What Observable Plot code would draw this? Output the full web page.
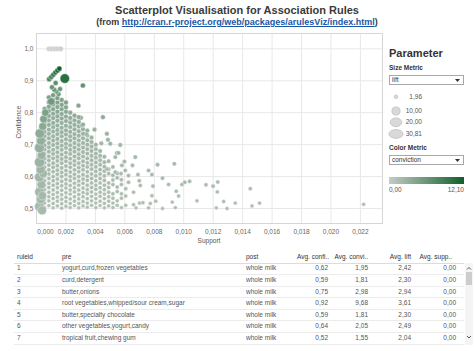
<!DOCTYPE html>
<html><head><meta charset="utf-8">
<script src="https://cdn.jsdelivr.net/npm/d3@7"></script>
<script src="https://cdn.jsdelivr.net/npm/@observablehq/plot@0.6"></script>
<style>
body{margin:0;background:#fff;font-family:Arial,"Liberation Sans",sans-serif;}
#root{position:relative;width:474px;height:351px;overflow:hidden;background:#fff;}
.a{position:absolute;white-space:nowrap;}
.title{left:0;width:474px;text-align:center;font-weight:bold;color:#3a3a3a;}
.lbl{font-size:6.5px;line-height:8px;color:#555;}
.bold{font-weight:bold;color:#333;}
.dd{border:1px solid #a8a8a8;background:#fff;box-sizing:border-box;font-size:6.5px;line-height:8px;color:#333;padding-left:2px;}
.cell{font-size:6.5px;line-height:8px;color:#555;}
.hdr{color:#333;}
</style></head>
<body><div id="root"></div>
<script>
// ---------- data ----------
const wholeMilkSupport = 0.2555; // support of the rule consequent "whole milk"

// dense cloud of whole-milk rules, one support value per column
const cloudSupport = [0.00055,0.00084,0.00113,0.00142,0.00171,0.00200,0.00229,0.00258,0.00287,0.00316,0.00345,0.00374,0.00403,0.00432,0.00461,0.00490,0.00519,0.00548,0.00577,0.00606];
const cloudConfidence = [
 [0.503,0.517,0.530,0.545,0.559,0.572,0.587,0.601,0.614,0.629,0.643,0.656,0.671,0.685,0.698,0.713,0.727,0.740,0.755,0.769,0.783,0.797,0.812],
 [0.509,0.524,0.537,0.551,0.566,0.579,0.594,0.608,0.621,0.636,0.650,0.663,0.678,0.692,0.705,0.720,0.734,0.747,0.762,0.776,0.790,0.805,0.819,0.833,0.848],
 [0.502,0.516,0.531,0.544,0.558,0.573,0.587,0.600,0.615,0.629,0.642,0.657,0.671,0.684,0.699,0.713,0.726,0.741,0.755,0.768,0.783,0.797,0.811,0.826,0.840,0.855],
 [0.508,0.523,0.536,0.550,0.565,0.578,0.592,0.607,0.620,0.634,0.649,0.662,0.676,0.691,0.704,0.718,0.733,0.746,0.760,0.775,0.789,0.803,0.818,0.832,0.846],
 [0.501,0.515,0.529,0.543,0.557,0.571,0.585,0.600,0.613,0.627,0.642,0.655,0.669,0.684,0.697,0.711,0.726,0.739,0.753,0.768,0.782,0.796,0.811,0.825,0.840],
 [0.507,0.522,0.535,0.549,0.564,0.577,0.591,0.606,0.619,0.633,0.648,0.661,0.675,0.690,0.703,0.717,0.732,0.745,0.759,0.774,0.788,0.803,0.817,0.832],
 [0.503,0.516,0.530,0.545,0.558,0.572,0.587,0.600,0.614,0.629,0.642,0.656,0.671,0.684,0.698,0.713,0.726,0.740,0.755,0.769,0.784,0.800],
 [0.509,0.523,0.537,0.552,0.565,0.579,0.594,0.607,0.621,0.636,0.649,0.663,0.678,0.691,0.705,0.720,0.733,0.748,0.762,0.776,0.791],
 [0.502,0.516,0.530,0.544,0.558,0.573,0.586,0.600,0.615,0.628,0.642,0.657,0.670,0.685,0.699,0.713,0.728,0.742,0.757,0.771,0.786],
 [0.508,0.522,0.537,0.550,0.564,0.579,0.592,0.606,0.621,0.634,0.648,0.663,0.677,0.691,0.705,0.720,0.734,0.748,0.763],
 [0.504,0.517,0.531,0.546,0.559,0.573,0.588,0.601,0.615,0.630,0.643,0.657,0.672,0.686,0.700,0.714,0.729,0.744],
 [0.510,0.524,0.538,0.552,0.566,0.580,0.594,0.608,0.623,0.637,0.651,0.665,0.680,0.694,0.708,0.722],
 [0.503,0.517,0.531,0.545,0.560,0.573,0.587,0.602,0.616,0.630,0.644,0.659,0.672,0.686,0.700],
 [0.509,0.523,0.538,0.551,0.565,0.580,0.594,0.608,0.622,0.637,0.651,0.665,0.680],
 [0.502,0.516,0.531,0.545,0.559,0.573,0.588,0.602,0.617,0.631,0.645,0.662],
 [0.508,0.523,0.537,0.551,0.566,0.580,0.609,0.623,0.648],
 [0.503,0.517,0.532,0.546,0.575,0.589,0.604,0.630],
 [0.510,0.524,0.553,0.567,0.596,0.610],
 [0.503,0.532,0.546,0.575,0.590],
 [0.510,0.539,0.562]
];

// scattered whole-milk rules with larger support
const sparseSupport = [0.00451,0.00394,0.00478,0.00485,0.00440,0.00569,0.00546,0.00671,0.00597,0.00652,
 0.00822,0.00936,0.00761,0.00784,0.00689,0.00856,0.00698,0.00897,0.01040,0.01007,
 0.00988,0.00705,0.00791,0.00625,0.00659,0.00949,0.00784,0.00965,0.01090,0.00922,
 0.00723,0.00700,0.00810,0.00943,0.00856,0.00761,0.00676,0.00659,0.01151,0.01199,
 0.01231,0.01228,0.01452,0.01271,0.01350,0.01515,0.01464,0.01221,0.01294,0.02222,
 0.00773,0.00285,0.00229,0.00302,0.00309,0.00338,0.00501,0.00557,0.00535,0.00478,
 0.00580,0.00603,0.00625,0.00574,0.00535,0.00315];
const sparseConfidence = [0.786,0.747,0.734,0.715,0.704,0.699,0.674,0.661,0.647,0.635,
 0.637,0.640,0.619,0.606,0.606,0.595,0.587,0.575,0.585,0.582,
 0.575,0.572,0.570,0.582,0.551,0.554,0.540,0.539,0.524,0.520,
 0.518,0.517,0.523,0.503,0.500,0.502,0.502,0.512,0.574,0.570,
 0.583,0.552,0.562,0.522,0.517,0.517,0.508,0.502,0.500,0.513,
 0.516,0.822,0.781,0.784,0.760,0.733,0.703,0.674,0.661,0.624,
 0.635,0.619,0.603,0.609,0.614,0.885];

// high-confidence whole-milk rules at the top of the cloud
const topSupport = [0.00086,0.00100,0.00114,0.00128,0.00142,0.00155,0.00105,0.00120,0.00135,0.00150,0.00130,0.00160];
const topConfidence = [0.905,0.912,0.919,0.926,0.932,0.938,0.880,0.872,0.866,0.858,0.893,0.874];

// rules with other consequents (high lift)
const highLiftSupport = [0.00022,0.00030,0.00020,0.00034,0.00021,0.00028,0.00019,0.00033,0.00022,0.00030,0.00020,0.00038,0.00042,0.00048,0.00060,0.00100,0.00192,0.00040,0.00045];
const highLiftConfidence = [0.735,0.712,0.690,0.667,0.645,0.622,0.598,0.575,0.552,0.529,0.506,0.494,0.757,0.780,0.800,0.835,0.907,0.540,0.610];
const highLiftLift = [11.8,10.5,13.2,9.8,14.1,11.0,12.6,10.2,13.5,11.4,12.9,10.8,8.6,8.1,7.2,7.6,12.3,9.5,9.1];
const highLiftConviction = [3.6,3.3,3.0,2.8,2.7,2.5,2.3,2.2,2.1,2.0,1.9,1.9,3.9,4.3,4.7,5.6,10.3,2.1,2.4];

// rules with confidence 1 (conviction undefined)
const sureSupport = [0.00085,0.00104,0.00124,0.00144,0.00164];
const sureConfidence = [1,1,1,1,1];

// axis ticks
const xTicks = [0,0.002,0.004,0.006,0.008,0.010,0.012,0.014,0.016,0.018,0.020,0.022];
const yTicks = [0.5,0.6,0.7,0.8,0.9,1.0];

// legends
const sizeLegend = [1.96,10.00,20.00,30.81];
const colorLegend = [0.00,12.10];

// table
const tableHeaders = ["ruleid","pre","post","Avg. confi..","Avg. convi..","Avg. lift","Avg. supp.."];
const ruleIds = [1,2,3,4,5,6,7];
const preItems = ["yogurt,curd,frozen vegetables","curd,detergent","butter,onions","root vegetables,whipped/sour cream,sugar","butter,specialty chocolate","other vegetables,yogurt,candy","tropical fruit,chewing gum"];
const postItems = ["whole milk","whole milk","whole milk","whole milk","whole milk","whole milk","whole milk"];
const avgConfidence = [0.62,0.59,0.75,0.92,0.59,0.64,0.52];
const avgConviction = [1.95,1.81,2.98,9.68,1.81,2.05,1.55];
const avgLift = [2.42,2.30,2.94,3.61,2.30,2.49,2.04];
const avgSupport = [0.00,0.00,0.00,0.00,0.00,0.00,0.00];

// ---------- build ----------
const loc = d3.formatLocale({decimal: ",", thousands: ".", grouping: [3], currency: ["", ""]});
const f3 = loc.format(".3f"), f1 = loc.format(".1f"), f2 = loc.format(".2f");
const colorRange = ["#c4cbc6", "#10602b"];
const rMax = 7.5;

const wm = (s, c) => ({support: s, confidence: c, lift: c / wholeMilkSupport, conviction: (1 - wholeMilkSupport) / (1 - c)});
const rules = [];
cloudSupport.forEach((s, i) => cloudConfidence[i].forEach(c => rules.push(wm(s, c))));
sparseSupport.forEach((s, i) => rules.push(wm(s, sparseConfidence[i])));
topSupport.forEach((s, i) => rules.push(wm(s, topConfidence[i])));
highLiftSupport.forEach((s, i) => rules.push({support: s, confidence: highLiftConfidence[i], lift: highLiftLift[i], conviction: highLiftConviction[i]}));
rules.sort((a, b) => a.conviction - b.conviction);
const sure = sureSupport.map((s, i) => ({support: s, confidence: sureConfidence[i], lift: sureConfidence[i] / wholeMilkSupport}));

const root = document.getElementById("root");
function add(html, cls, style) {
  const d = document.createElement("div");
  d.className = "a " + (cls || "");
  d.setAttribute("style", style);
  d.innerHTML = html;
  root.appendChild(d);
  return d;
}

add("Scatterplot Visualisation for Association Rules", "title", "top:4px;font-size:11px;line-height:13px;");
add('(from <span style="color:#1b56a5;text-decoration:underline;">http://cran.r-project.org/web/packages/arulesViz/index.html</span>)', "title", "top:17px;font-size:9px;line-height:11px;");

const chart = Plot.plot({
  width: 384, height: 220,
  marginLeft: 36, marginRight: 2, marginTop: 5, marginBottom: 25,
  style: {fontFamily: "Arial, 'Liberation Sans', sans-serif", fontSize: "6.5px", color: "#666", background: "transparent"},
  x: {domain: [0, 0.0235]},
  y: {domain: [0.453, 1.048]},
  r: {type: "sqrt", domain: [0, 30.81], range: [0, rMax]},
  color: {type: "linear", domain: [0, 12.1], range: colorRange},
  marks: [
    Plot.gridX(xTicks, {stroke: "#e8e8e8", strokeOpacity: 1}),
    Plot.gridY(yTicks, {stroke: "#e8e8e8", strokeOpacity: 1}),
    Plot.frame({stroke: "#d6d6d6"}),
    Plot.axisY(yTicks, {tickSize: 0, tickPadding: 3, tickFormat: f1, label: null}),
    Plot.axisX(xTicks.slice(1), {tickSize: 0, tickPadding: 6, tickFormat: f3, label: null}),
    Plot.axisX([0], {tickSize: 0, tickPadding: 6, tickFormat: f3, dx: 9, label: null}),
    Plot.dot(sure, {x: "support", y: "confidence", r: "lift", fill: "#cfcfcf", stroke: "#ffffff", strokeOpacity: 0.6, strokeWidth: 0.5}),
    Plot.dot(rules, {x: "support", y: "confidence", r: "lift", fill: "conviction", stroke: "#e9efea", strokeOpacity: 0.8, strokeWidth: 0.6, sort: null})
  ]
});
chart.style.position = "absolute";
chart.style.left = "0px";
chart.style.top = "28px";
root.appendChild(chart);

add("Support", "lbl", "left:189px;width:40px;text-align:center;top:236.5px;");
add("Confidence", "lbl", "left:-1px;width:40px;text-align:center;top:118px;transform:rotate(-90deg);");

// parameter panel
add("Parameter", "bold", "left:389px;top:46.5px;font-size:11px;line-height:13px;");
add("Size Metric", "lbl bold", "left:389px;top:64.3px;");
const arrow = '<svg width="5" height="4" style="position:absolute;right:3px;top:3px"><polygon points="0,0 5,0 2.5,3" fill="#333"/></svg>';
add("lift" + arrow, "dd", "left:389px;top:75px;width:75px;height:10px;");
add("Color Metric", "lbl bold", "left:389px;top:144.3px;");
add("conviction" + arrow, "dd", "left:389px;top:154.5px;width:75px;height:10px;");

const rS = d3.scaleSqrt().domain([0, 30.81]).range([0, 7.2]);
const legY = [96.7, 111, 122.3, 134];
let svgL = '<svg width="20" height="60" style="position:absolute;left:386px;top:88px;overflow:visible">';
sizeLegend.forEach((v, i) => {
  const r = rS(v);
  svgL += `<ellipse cx="10" cy="${legY[i] - 88}" rx="${r}" ry="${Math.min(r, 4.4)}" fill="#d9d9d9" stroke="#b5b5b5" stroke-width="0.6"/>`;
});
svgL += "</svg>";
root.insertAdjacentHTML("beforeend", svgL);
sizeLegend.forEach((v, i) => add(f2(v), "lbl", `left:402px;width:20px;text-align:right;top:${legY[i] - 4}px;`));

add("", "", `left:389px;top:177px;width:75px;height:7px;background:linear-gradient(to right, ${colorRange[0]}, ${colorRange[1]});`);
add(f2(colorLegend[0]), "lbl", "left:389px;top:186px;");
add(f2(colorLegend[1]), "lbl", "left:424px;width:40px;text-align:right;top:186px;");

// table
const colLeft = [17, 62, 246];
const colRight = [329, 368, 411, 452];
const valRight = [328, 368, 411, 456];
const hY = 257, rowY = [268.3, 280, 291.6, 303.2, 314.8, 326.4, 338];
tableHeaders.forEach((h, j) => {
  if (j < 3) add(h, "cell hdr", `left:${colLeft[j]}px;top:${hY - 4}px;`);
  else add(h, "cell hdr", `left:${colRight[j - 3] - 60}px;width:60px;text-align:right;top:${hY - 4}px;`);
});
add("", "", "left:14px;top:262.5px;width:450px;height:1px;background:#dcdcdc;");
ruleIds.forEach((id, i) => {
  const y = rowY[i] - 4;
  add(String(id), "cell", `left:${colLeft[0]}px;top:${y}px;`);
  add(preItems[i], "cell", `left:${colLeft[1]}px;top:${y}px;`);
  add(postItems[i], "cell", `left:${colLeft[2]}px;top:${y}px;`);
  [avgConfidence[i], avgConviction[i], avgLift[i], avgSupport[i]].forEach((v, j) =>
    add(f2(v), "cell", `left:${valRight[j] - 40}px;width:40px;text-align:right;top:${y}px;`));
  add("", "", `left:14px;top:${rowY[i] + 5.6}px;width:450px;height:1px;background:#ececec;`);
});
// scrollbar
add("", "", "left:465px;top:263px;width:8px;height:82px;background:#f4f4f4;");
add("", "", "left:466px;top:272px;width:6px;height:13px;background:#cdcdcd;");
root.insertAdjacentHTML("beforeend", '<svg width="8" height="82" style="position:absolute;left:465px;top:263px"><polyline points="2,6.5 4,4.5 6,6.5" fill="none" stroke="#444" stroke-width="0.9"/><polyline points="2,73 4,75 6,73" fill="none" stroke="#444" stroke-width="0.9"/></svg>');
</script>
</body></html>
